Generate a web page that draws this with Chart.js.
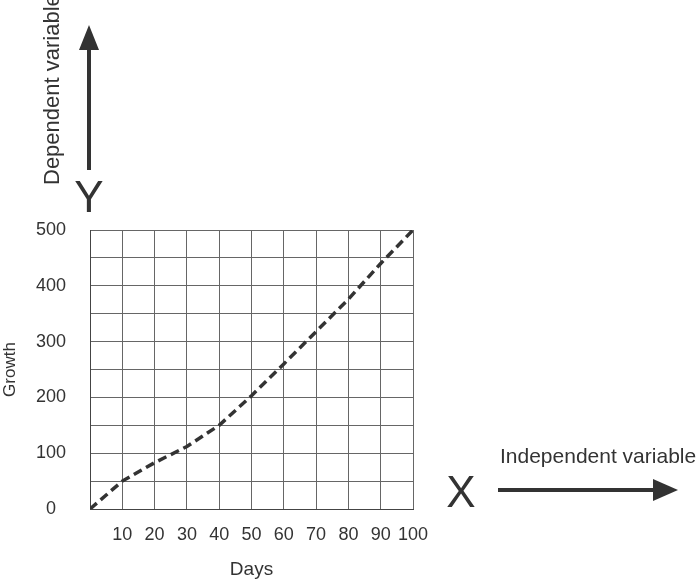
<!DOCTYPE html>
<html>
<head>
<meta charset="utf-8">
<script src="https://cdn.jsdelivr.net/npm/chart.js@4/dist/chart.umd.min.js"></script>
<style>
  html, body { margin: 0; padding: 0; background: #fff; }
  #wrap { width: 700px; height: 582px; }
</style>
</head>
<body>
<div id="wrap"><canvas id="c" width="700" height="582"></canvas></div>
<script>
const days = [0, 10, 20, 30, 40, 50, 60, 70, 80, 90, 100];
const growth = [0, 50, 83, 112, 150, 203, 260, 318, 376, 440, 500];
const xTickLabels = ['', '10', '20', '30', '40', '50', '60', '70', '80', '90', '100'];
const yTickLabels = ['0', '100', '200', '300', '400', '500'];

const FONT = "'Liberation Sans', Arial, Helvetica, sans-serif";
const INK = '#333333';

const annotations = {
  id: 'annotations',
  afterDraw(chart) {
    const ctx = chart.ctx;
    const ca = chart.chartArea;
    ctx.save();
    ctx.fillStyle = INK;
    ctx.strokeStyle = INK;

    // Y arrow
    const ax = ca.left - 1;
    ctx.lineWidth = 4;
    ctx.beginPath();
    ctx.moveTo(ax, ca.top - 60);
    ctx.lineTo(ax, 45);
    ctx.stroke();
    ctx.beginPath();
    ctx.moveTo(ax, 25);
    ctx.lineTo(ax - 10, 50);
    ctx.lineTo(ax + 10, 50);
    ctx.closePath();
    ctx.fill();

    // Y letter
    ctx.font = '44px ' + FONT;
    ctx.textAlign = 'center';
    ctx.textBaseline = 'middle';
    ctx.fillText('Y', ax, 200);

    // Dependent variable (rotated)
    ctx.save();
    ctx.translate(59, 185);
    ctx.rotate(-Math.PI / 2);
    ctx.font = '22px ' + FONT;
    ctx.textAlign = 'left';
    ctx.textBaseline = 'alphabetic';
    ctx.fillText('Dependent variable', 0, 0);
    ctx.restore();

    // X letter
    ctx.font = '44px ' + FONT;
    ctx.textAlign = 'center';
    ctx.textBaseline = 'middle';
    ctx.fillText('X', 461, 495);

    // X arrow
    const ay = 490;
    ctx.lineWidth = 4;
    ctx.beginPath();
    ctx.moveTo(498, ay);
    ctx.lineTo(658, ay);
    ctx.stroke();
    ctx.beginPath();
    ctx.moveTo(678, ay);
    ctx.lineTo(653, ay - 11);
    ctx.lineTo(653, ay + 11);
    ctx.closePath();
    ctx.fill();

    // Independent variable
    ctx.font = '21px ' + FONT;
    ctx.textAlign = 'left';
    ctx.textBaseline = 'middle';
    ctx.fillText('Independent variable', 500, 457);

    ctx.restore();
  }
};

new Chart(document.getElementById('c'), {
  type: 'line',
  data: {
    datasets: [{
      data: days.map((d, i) => ({ x: d, y: growth[i] })),
      borderColor: INK,
      borderWidth: 3.5,
      borderDash: [9, 5],
      pointRadius: 0,
      tension: 0,
      fill: false
    }]
  },
  options: {
    responsive: false,
    animation: false,
    devicePixelRatio: 1,
    layout: { padding: { left: 0, top: 230, right: 287, bottom: 0 } },
    plugins: { legend: { display: false }, tooltip: { enabled: false } },
    scales: {
      x: {
        type: 'linear',
        min: 0, max: 100,
        afterFit(s) { s.height = 73; },
        grid: { color: '#666', lineWidth: 1, drawTicks: false },
        border: { display: true, color: '#444', width: 1 },
        ticks: {
          stepSize: 10,
          autoSkip: false,
          maxRotation: 0,
          padding: 15,
          color: INK,
          font: { family: FONT, size: 18 },
          callback: (v) => xTickLabels[days.indexOf(v)] ?? ''
        },
        title: {
          display: true,
          text: 'Days',
          color: INK,
          font: { family: FONT, size: 19 },
          padding: { top: 0, bottom: 1 }
        }
      },
      y: {
        min: 0, max: 500,
        afterFit(s) { s.width = 90; },
        grid: { color: '#666', lineWidth: 1, drawTicks: false },
        border: { display: true, color: '#444', width: 1 },
        ticks: {
          stepSize: 50,
          autoSkip: false,
          padding: 24,
          crossAlign: 'center',
          color: INK,
          font: { family: FONT, size: 18 },
          callback: (v) => yTickLabels.includes(String(v)) ? String(v) : ''
        },
        title: {
          display: true,
          text: 'Growth',
          color: INK,
          font: { family: FONT, size: 17 },
          padding: { top: 0, bottom: 0 }
        }
      }
    }
  },
  plugins: [annotations]
});
</script>
</body>
</html>
